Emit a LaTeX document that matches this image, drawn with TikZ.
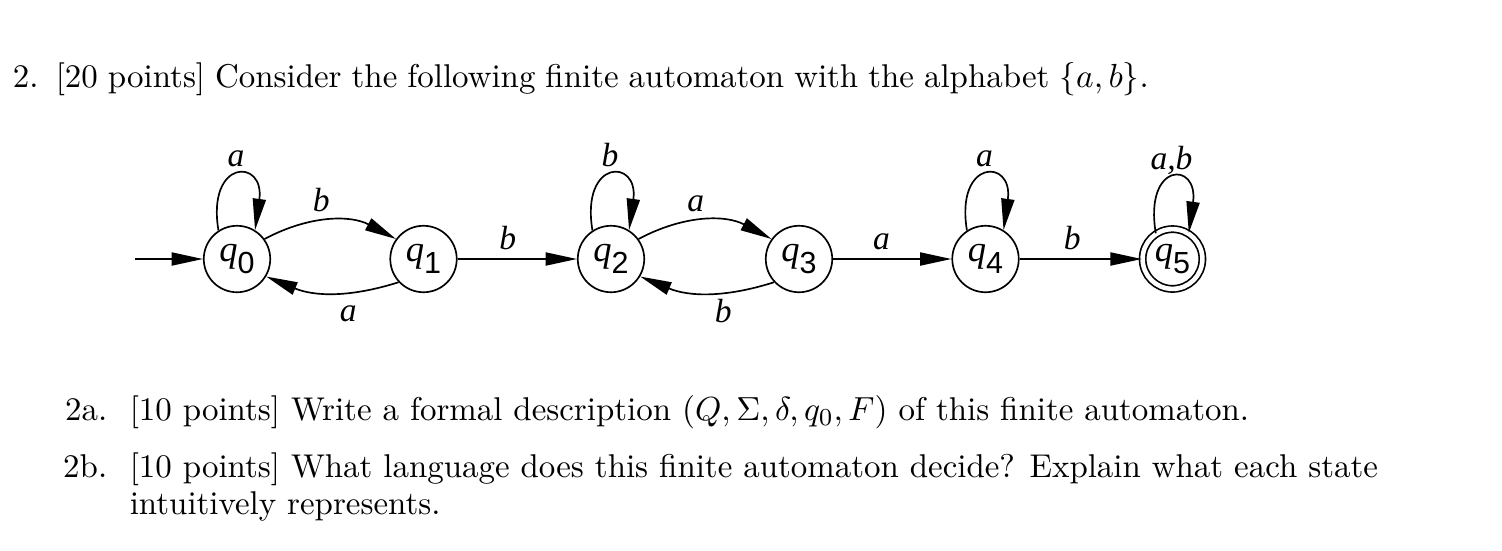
\documentclass[tikz,border=0pt]{standalone}
\usepackage{fontspec}
\newfontfamily\symfont{Liberation Serif}
\newfontfamily\idxfont{Liberation Sans}
\usetikzlibrary{arrows.meta}

\newcommand{\qs}[1]{{\fontsize{12}{12}\symfont\itshape q}\raisebox{-3.9pt}{\fontsize{10}{10}\idxfont #1}}

\begin{document}
\begin{tikzpicture}[x=0.328pt,y=-0.328pt,>={Triangle[length=10.3pt,width=4.3pt]},
  every path/.style={line width=0.55pt},
  state/.style={draw,circle,minimum size=21.8pt,inner sep=0pt},
  final/.style={state,double,double distance=1.5pt,minimum size=19.6pt},
  lbl/.style={font=\fontsize{11}{11}\symfont\itshape,inner sep=1pt,text height=7.4pt,text depth=0pt},
  txt/.style={anchor=base west,inner sep=0pt,font=\fontsize{10.8}{12.2}\selectfont}]
  \useasboundingbox (0,0) rectangle (1502,550);
  % question text
  \node[txt] (num) at (12,87) {2.};
  \node[txt] (head) at (55,87) {\makebox[358.5pt][s]{[20 points] Consider the following finite automaton with the alphabet $\{a,b\}$.}};
  \node[txt,anchor=base east] (numa) at (108,420) {2a.};
  \node[txt] (parta) at (129,420) {[10 points] Write a formal description $(Q,\Sigma,\delta,q_0,F)$ of this finite automaton.};
  \node[txt,anchor=base east] (numb) at (108,477) {2b.};
  \node[txt] (partb) at (129,477) {\makebox[409.4pt][s]{[10 points] What language does this finite automaton decide? Explain what each state}};
  \node[txt] (partb2) at (129,514) {intuitively represents.};
  % states
  \node[state] (q0) at (237,259) {\qs{0}};
  \node[state] (q1) at (423.5,259) {\qs{1}};
  \node[state] (q2) at (611,259) {\qs{2}};
  \node[state] (q3) at (799,259) {\qs{3}};
  \node[state] (q4) at (985.5,259) {\qs{4}};
  \node[final] (q5) at (1172.5,259) {\qs{5}};
  \coordinate (start) at (135,259);
  % transitions
  \draw[->] (start) -- (q0);
  \draw[->] (q0.123) .. controls +(-12,-72) and +(10,-72) .. (q0.58) node[lbl,pos=.5,above=2pt] {a};
  \draw[->] (q0.36) to[bend left=28] node[lbl,pos=.43,above=2pt] {b} (q1.144);
  \draw[->] (q1.223) to[bend left=20] node[lbl,pos=.37,below=1pt] {a} (q0.329);
  \draw[->] (q1) -- node[lbl,pos=.42,above=2pt] {b} (q2);
  \draw[->] (q2.123) .. controls +(-12,-72) and +(10,-72) .. (q2.58) node[lbl,pos=.5,above=2pt] {b};
  \draw[->] (q2.36) to[bend left=28] node[lbl,pos=.43,above=2pt] {a} (q3.144);
  \draw[->] (q3.223) to[bend left=20] node[lbl,pos=.37,below=1pt] {b} (q2.329);
  \draw[->] (q3) -- node[lbl,pos=.41,above=2pt] {a} (q4);
  \draw[->] (q4.123) .. controls +(-12,-72) and +(10,-72) .. (q4.58) node[lbl,pos=.5,above=2pt] {a};
  \draw[->] (q4) -- node[lbl,pos=.43,above=2pt] {b} (q5);
  \draw[->] (q5.123) .. controls +(-12,-72) and +(10,-72) .. (q5.58) node[lbl,pos=.5,above=2pt] {a,b};
\end{tikzpicture}
\end{document}
